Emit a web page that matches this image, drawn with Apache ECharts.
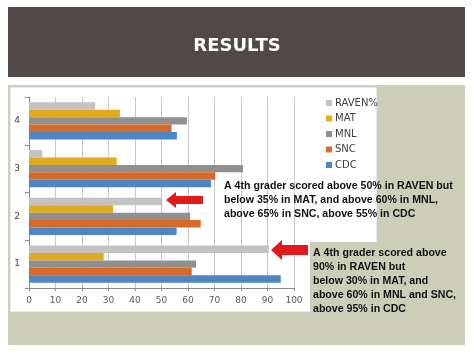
<!DOCTYPE html>
<html><head><meta charset="utf-8">
<script src="https://cdn.jsdelivr.net/npm/echarts@6/dist/echarts.min.js"></script>
<style>html,body{margin:0;padding:0;background:#fff;}#c{width:474px;height:355px;}</style>
</head><body><div id="c"></div>
<script>
const categories = ['1', '2', '3', '4'];
const xTicks = [0, 10, 20, 30, 40, 50, 60, 70, 80, 90, 100];
const ravenValues = [90.5, 50.3, 5.0, 25.0];
const matValues = [28.2, 31.8, 33.1, 34.3];
const mnlValues = [63.0, 60.8, 80.8, 59.6];
const sncValues = [61.4, 64.8, 70.3, 53.8];
const cdcValues = [95.0, 55.7, 68.7, 55.8];
const seriesNames = ['RAVEN%', 'MAT', 'MNL', 'SNC', 'CDC'];
const note1 = ['A 4th grader scored above 50% in RAVEN but', 'below 35% in MAT, and above 60% in MNL,', 'above 65% in SNC, above 55% in CDC'];
const note2 = ['A 4th grader scored above', '90% in RAVEN but', 'below 30% in MAT, and', 'above 60% in MNL and SNC,', 'above 95% in CDC'];

const colors = {'RAVEN%': '#c3c3c3', 'MAT': '#e2ab1c', 'MNL': '#909090', 'SNC': '#d9692a', 'CDC': '#4d86c4'};
const valuesByName = {'RAVEN%': ravenValues, 'MAT': matValues, 'MNL': mnlValues, 'SNC': sncValues, 'CDC': cdcValues};

const chart = echarts.init(document.getElementById('c'));
const noteFont = '"Liberation Sans", Arial, sans-serif';
chart.setOption({
  backgroundColor: '#ffffff',
  animation: false,
  graphic: [
    {type: 'rect', shape: {x: 8, y: 7, width: 457, height: 70}, style: {fill: '#514847'}, z: 0},
    {type: 'text', x: 237, y: 46, style: {text: 'RESULTS', fill: '#ffffff', font: 'bold 18px "DejaVu Sans", sans-serif', textAlign: 'center', textVerticalAlign: 'middle'}, z: 1},
    {type: 'rect', shape: {x: 8, y: 85, width: 457, height: 260}, style: {fill: '#ccceb8'}, z: -2},
    {type: 'rect', shape: {x: 10, y: 87, width: 367, height: 225}, style: {fill: '#ffffff', stroke: '#d0d0d0', lineWidth: 1}, z: -1},
    {type: 'rect', shape: {x: 310, y: 242, width: 67, height: 70}, style: {fill: '#ccceb8'}, z: 5},
    {type: 'text', x: 224, y: 179, style: {text: note1.join('\n'), fill: '#111111', font: 'bold 10.6px ' + noteFont, lineHeight: 14}, z: 10},
    {type: 'text', x: 313, y: 246, style: {text: note2.join('\n'), fill: '#111111', font: 'bold 10.6px ' + noteFont, lineHeight: 14}, z: 10},
    {type: 'polygon', shape: {points: [[166, 200], [176, 192], [176, 196], [203, 196], [203, 204], [176, 204], [176, 208]]}, style: {fill: '#e3191c'}, z: 10},
    {type: 'polygon', shape: {points: [[271, 250], [282, 240], [282, 245], [308, 245], [308, 255], [282, 255], [282, 260]]}, style: {fill: '#e3191c'}, z: 10}
  ],
  legend: {
    orient: 'vertical', left: 321, top: 92,
    data: seriesNames,
    itemWidth: 6, itemHeight: 6, itemGap: 3.5,
    icon: 'rect',
    textStyle: {fontSize: 10, color: '#404040', fontFamily: '"DejaVu Sans", sans-serif', lineHeight: 12, padding: [0, 0, 0, -2]}
  },
  grid: {left: 29, top: 97, width: 265, height: 191, containLabel: false},
  xAxis: {
    type: 'value', min: 0, max: 100, interval: 10,
    axisLine: {show: true, lineStyle: {color: '#8c8c8c'}},
    axisTick: {show: true, length: 3, lineStyle: {color: '#8c8c8c'}},
    axisLabel: {color: '#595959', fontSize: 9, margin: 8, fontFamily: '"DejaVu Sans", sans-serif',
      formatter: v => xTicks.includes(v) ? String(v) : ''},
    splitLine: {show: true, lineStyle: {color: '#c8c8c8'}}
  },
  yAxis: {
    type: 'category', data: categories,
    axisLine: {show: true, lineStyle: {color: '#8c8c8c'}},
    axisTick: {show: true, length: 4, lineStyle: {color: '#8c8c8c'}},
    axisLabel: {color: '#404040', fontSize: 9, margin: 9, fontFamily: '"DejaVu Sans", sans-serif'}
  },
  series: seriesNames.map(n => ({
    name: n, type: 'bar', data: valuesByName[n],
    itemStyle: {color: colors[n]},
    barGap: '0%', barCategoryGap: '22%'
  }))
});
</script></body></html>
